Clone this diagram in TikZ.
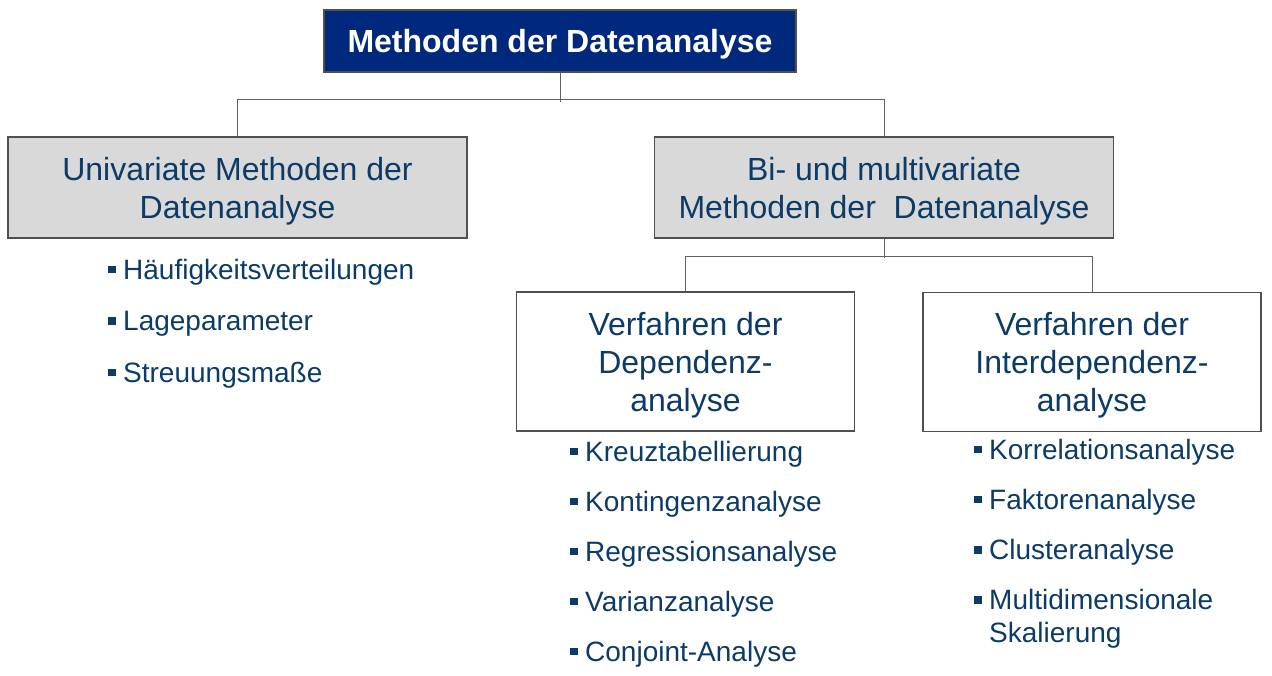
\documentclass[tikz,border=0pt]{standalone}
\usepackage{fontspec}
\setmainfont{Liberation Sans}
\newcommand\sqbul{\makebox[15pt][l]{\rule[6pt]{7.5pt}{7.5pt}}}
\begin{document}
\begin{tikzpicture}[x=1pt,y=-1pt,
   box/.style={draw=boxline,line width=1.2pt,text=txtblue,align=center,
     font=\fontsize{32}{38}\selectfont,text depth=0pt,inner sep=0pt},
   graybox/.style={box,fill=boxgray,minimum width=459pt,minimum height=101pt},
   whitebox/.style={box,fill=white,minimum width=338pt,minimum height=139pt},
   item/.style={anchor=base west,inner sep=0pt,text=txtblue,
     font=\fontsize{28}{33}\selectfont},
   conn/.style={draw=connline,line width=1pt}]
   \definecolor{txtblue}{HTML}{0B3B66}
   \definecolor{titleblue}{HTML}{00297E}
   \definecolor{boxgray}{HTML}{D9D9D9}
   \definecolor{boxline}{HTML}{505050}
   \definecolor{connline}{HTML}{606060}
   \useasboundingbox (0,0) rectangle (1272,675);
   \node [box,fill=titleblue,text=white,font=\bfseries\fontsize{32}{38}\selectfont,
     minimum width=472pt,minimum height=62pt] (top) at (560,41) {Methoden der Datenanalyse};
   \node [graybox] (uni) at (237.5,187.5) {Univariate Methoden der\\Datenanalyse};
   \node [graybox] (multi) at (884,187.5) {Bi- und multivariate\\Methoden der\ \ Datenanalyse};
   \node [whitebox] (dep) at (685.5,361.5) {Verfahren der\\Dependenz-\\analyse};
   \node [whitebox] (inter) at (1092,362) {Verfahren der\\Interdependenz-\\analyse};
   \draw [conn] (top.south) -- ++(0,29);
   \draw [conn] (uni.north) -- ++(0,-37) -| (multi.north);
   \draw [conn] (multi.south) -- ++(0,19);
   \draw [conn] (dep.north) -- ++(0,-35) -| (inter.north);
   \foreach \t [count=\i] in {Häufigkeitsverteilungen,Lageparameter,Streuungsmaße}
     \node [item] (uni\i) at (108,279+51.5*\i-51.5) {\sqbul\t};
   \foreach \t [count=\i] in {Kreuztabellierung,Kontingenzanalyse,Regressionsanalyse,
     Varianzanalyse,Conjoint-Analyse}
     \node [item] (dep\i) at (570,461+50*\i-50) {\sqbul\t};
   \foreach \t [count=\i] in {Korrelationsanalyse,Faktorenanalyse,Clusteranalyse,
     {\parbox[t]{300pt}{Multidimensionale\\Skalierung}}}
     \node [item] (inter\i) at (974,459+50.3*\i-50.3) {\sqbul\t};
\end{tikzpicture}
\end{document}
